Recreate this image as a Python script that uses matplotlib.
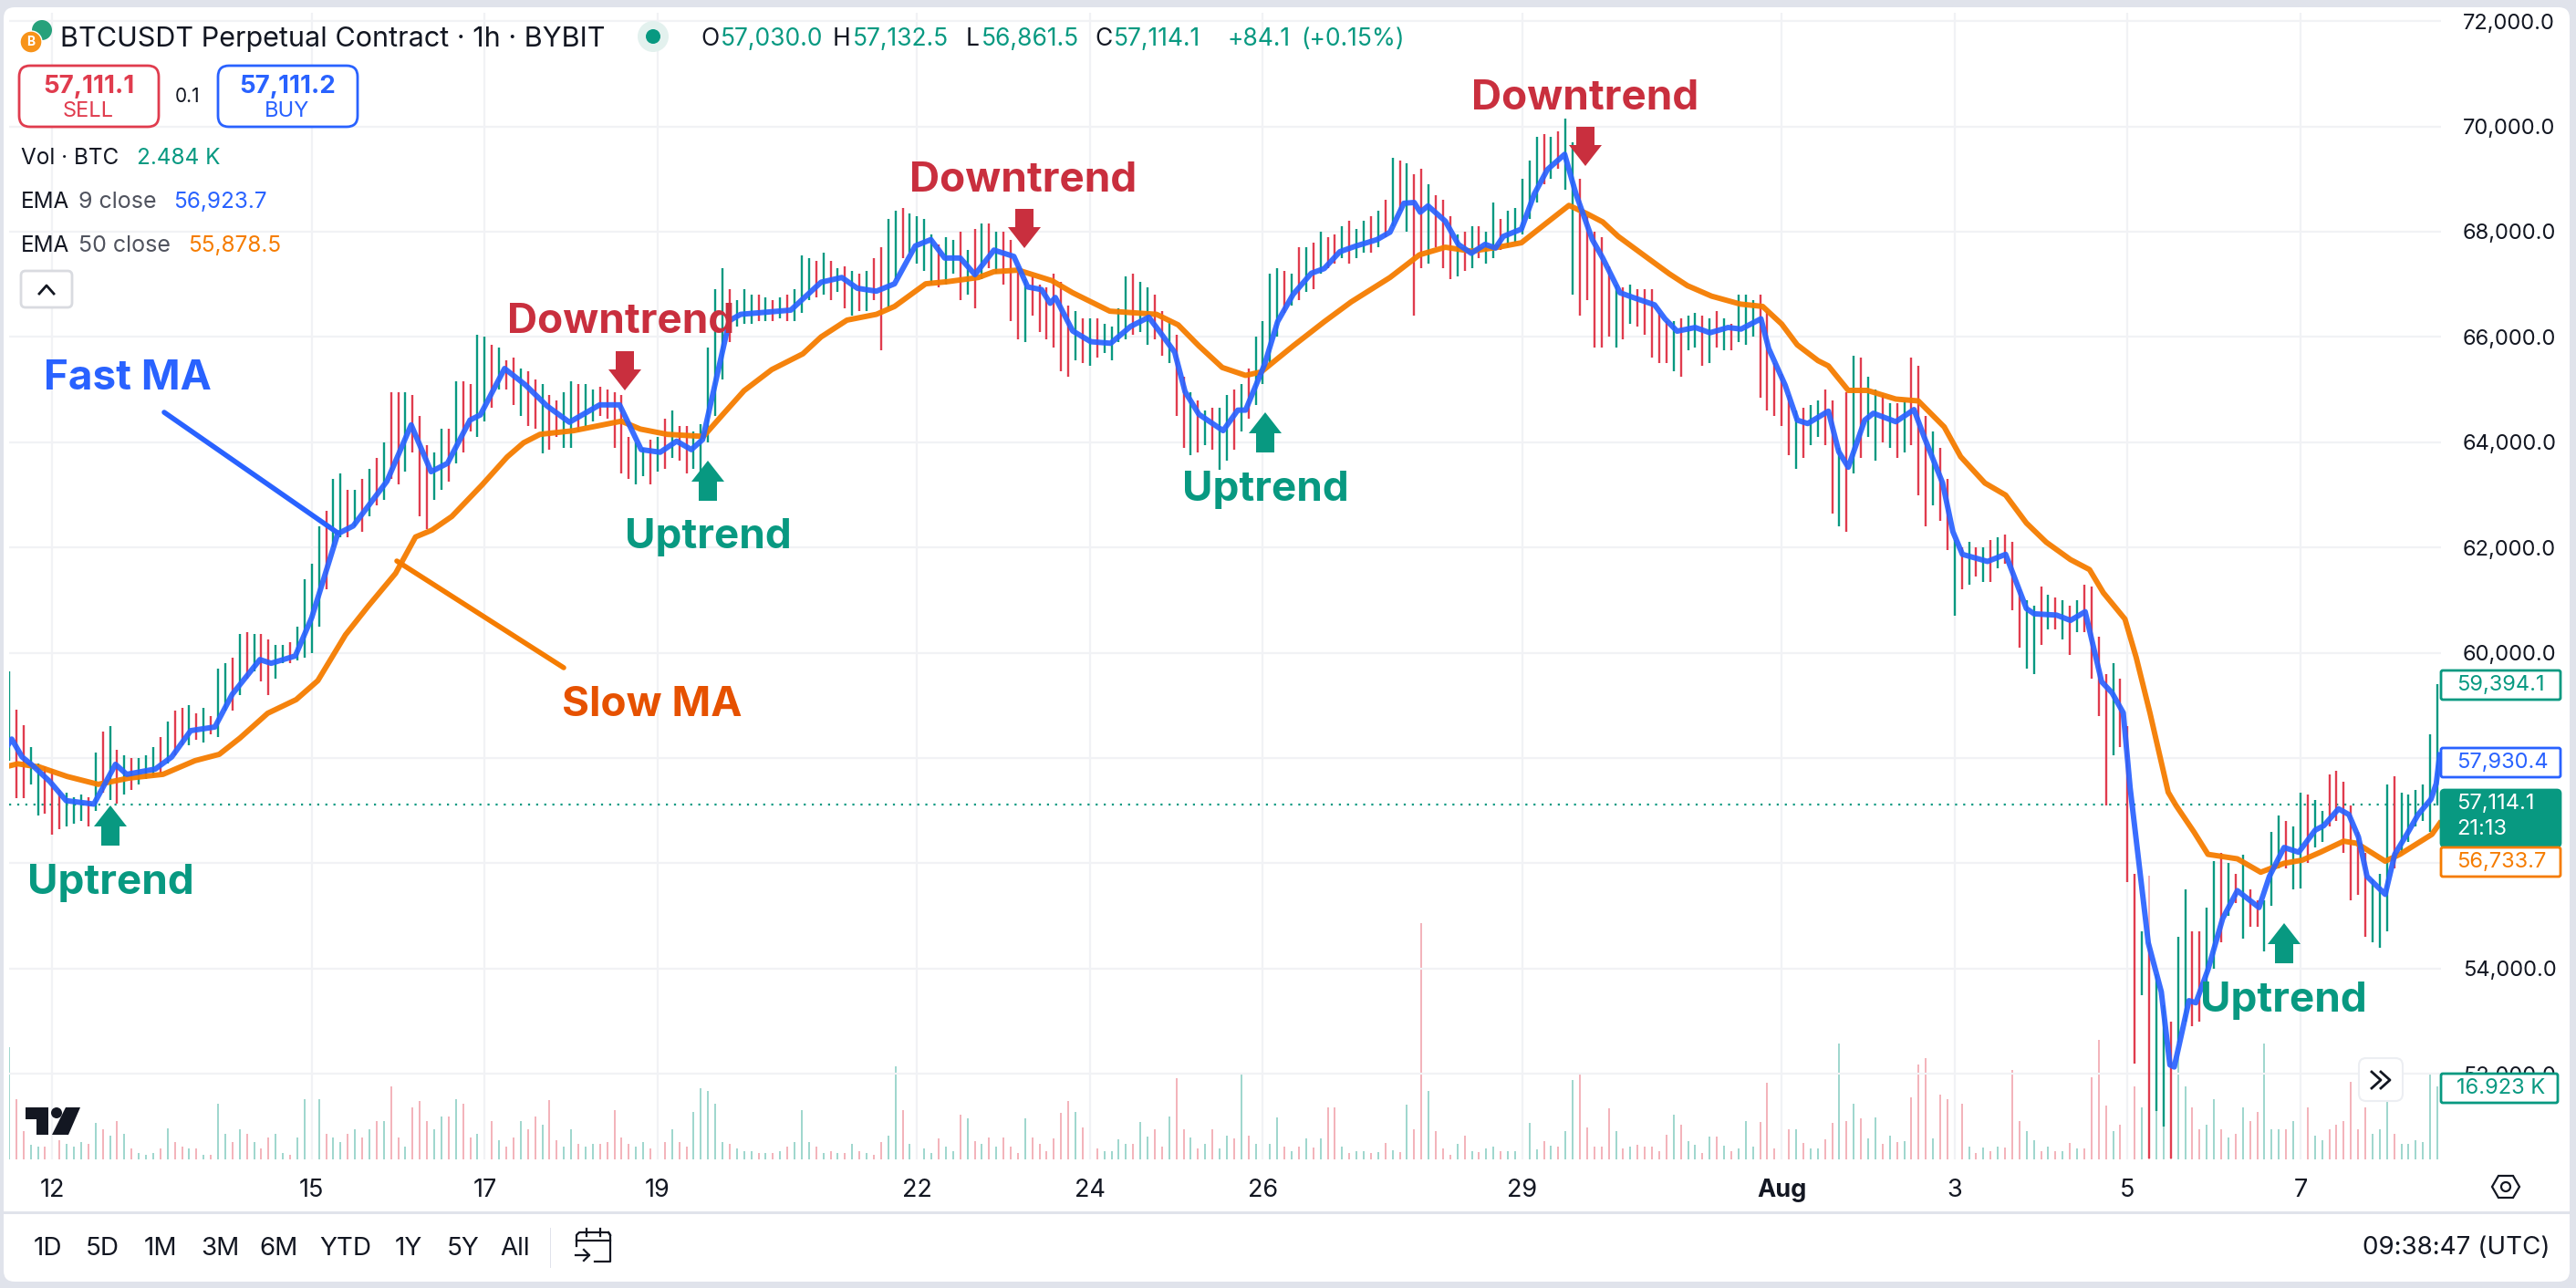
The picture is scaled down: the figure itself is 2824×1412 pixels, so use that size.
# BTCUSDT 1h chart with fast / slow EMA annotations

import numpy as np
import matplotlib.pyplot as plt
from matplotlib.patches import FancyBboxPatch, Polygon, Circle, Rectangle

plt.rcParams['font.family'] = ['Inter', 'DejaVu Sans']

GREEN = '#089981'
RED = '#e03c4e'
BLUE = '#2962ff'
ORANGE = '#f57c00'
INK = '#131722'

# candles, one every 2 hours starting at day 11.5 (day 32 = Aug 1)
highs = [
    59650,58920,58620,58200,57900,57850,
    57800,57400,57350,57250,57300,57250,58100,58500,58600,58150,58050,58000,
    58000,58050,58200,58400,58700,58900,58950,59000,58850,58950,58800,59700,
    59800,59900,60350,60400,60350,60350,60250,60150,60150,60200,60500,61400,
    61700,62400,62700,63300,63400,63100,63100,63300,63500,63700,64000,64950,
    64950,64950,64900,64500,63950,63800,64250,64250,65150,65150,65100,66050,
    66000,65850,65800,65550,65600,65400,65350,65200,65100,64900,64800,64950,
    65150,65100,65100,65000,65050,65000,64950,64900,64100,64000,63900,64050,
    64100,64450,64600,64300,64300,64200,64350,65800,66900,67300,66900,66700,
    66900,66800,66800,66750,66700,66750,66800,66900,67550,67500,67450,67600,
    67450,67300,67350,67250,67200,67250,67500,67700,68250,68400,68450,68350,
    68300,68250,67950,67750,67900,67850,68000,67650,68050,68150,68150,68000,
    68000,67850,67350,67100,67150,67000,66950,67200,67050,66600,66500,66350,
    66350,66350,66250,66200,66550,67150,67200,67050,66950,66800,66500,66300,
    66050,65250,64950,64800,64600,64650,64650,64900,65000,65100,65400,66000,
    66300,67200,67300,67250,67200,67700,67700,67800,68000,67900,67950,68100,
    68200,68050,68200,68300,68400,68600,69400,69350,69300,69100,69200,68900,
    68700,68600,68300,67950,68000,68100,68100,68000,68550,68250,68400,68450,
    69000,69350,69800,69850,69800,69900,70150,69700,69000,68300,68000,67900,
    67350,67000,66950,67000,66900,66900,66900,66450,66300,66300,66350,66400,
    66450,66400,66350,66500,66350,66250,66800,66800,66700,66800,66500,65500,
    65300,64900,64600,64650,64700,64800,65000,64800,63900,64950,65650,65600,
    65250,65000,64900,64750,64750,64800,65600,65450,64500,64200,63900,63300,
    62150,62000,62100,62000,62000,62150,62200,62250,62100,61200,61000,60900,
    61250,61100,61050,61000,60900,61000,61300,61250,60300,59600,59800,59500,
    58600,55800,54700,54500,53900,53300,53000,54600,55500,54700,54700,55150,
    56040,56200,56000,55800,56170,55500,55300,55300,56600,56900,56800,56700,
    57350,57300,57200,57000,57680,57750,57550,57100,56600,56200,55700,55800,
    57500,57650,57350,57300,57400,57500,58450,59400,
]
lows = [
    57950,57230,57230,57500,56900,56950,
    56540,56650,56700,56750,56800,56700,57000,57350,57200,57130,57300,57400,
    57500,57600,57650,57700,57900,58050,58250,58250,58350,58300,58450,58400,
    58900,58900,59200,59500,59650,59450,59200,59500,59800,59800,59850,59900,
    60000,60500,61200,62000,62200,62200,62400,62300,62600,62800,62900,63300,
    63200,63450,63800,62600,62350,62900,63100,63250,63600,63800,64200,64100,
    64400,64650,65000,65000,64700,64500,64300,64250,63790,63850,64100,63900,
    63900,64200,64300,64400,64500,64450,63900,63400,63300,63200,63350,63200,
    63450,63500,63700,63650,63400,63500,63300,64000,64500,65200,65900,66200,
    66250,66250,66300,66300,66300,66350,66300,66300,66450,66700,66750,66800,
    66700,66850,66550,66400,66500,66500,66700,65750,66550,67100,67500,67600,
    67400,67250,67000,66950,67000,67200,66700,66800,66550,67100,67300,67200,
    67000,66300,65950,65900,66400,66100,65950,65800,65350,65250,65550,65500,
    65450,65600,65700,65550,65900,65950,66050,66100,65850,65950,65650,65500,
    64500,63900,63750,63800,63950,63850,63470,63650,63850,64200,64450,64700,
    65100,65500,66000,66450,66600,66700,66850,66900,67200,67300,67400,67500,
    67400,67500,67600,67600,67700,67900,68100,68400,68000,66400,67300,67400,
    67700,67300,67100,67150,67250,67300,67500,67400,67500,67650,67700,67800,
    67950,68250,68550,68900,69000,69200,68800,66800,66400,66700,65800,65800,
    66000,65800,65950,66250,66200,66050,65600,65500,65500,65350,65250,65750,
    65800,65460,65500,65800,65750,65750,65900,65850,66000,64850,64600,64500,
    64300,63750,63500,63700,63950,64100,63950,62650,62400,62300,63400,63700,
    64100,63650,64000,63900,63700,63800,63950,63000,62400,62800,62500,61950,
    60700,61200,61300,61450,61350,61350,61600,61700,60800,60100,59700,59600,
    60150,60450,60450,60250,59950,60400,60400,59500,58800,57100,58050,58200,
    55650,52200,53500,50400,51300,51000,50400,52600,53000,52900,53000,53700,
    54000,54500,55000,55250,54570,54800,54800,54330,55200,55900,55900,55500,
    55520,56000,56300,56400,56700,56800,56200,55300,55400,54600,54500,54400,
    54700,55900,56200,56400,56700,56800,56590,57100,
]
directions = (
    'grrggr'
    'rrgggrgrgrgr'
    'gggrgrrgrgrg'
    'grgrgrrggrgg'
    'ggrggrgrgrgr'
    'rgrrrggrgrrg'
    'grgrrgrrgrrg'
    'grggrrrrrggr'
    'grgrrgggggrg'
    'ggrgrgrgggrg'
    'rgrgrgrrggrg'
    'gggrggrgrgrg'
    'rrrgrrrrrrgr'
    'grggggrggrrg'
    'rrgrgrggrgrg'
    'gggrgrgrgrrg'
    'rggrgrgrgrrg'
    'rrrgrgrggrgg'
    'gggrgrggrrrr'
    'rgrgrrrrrgrg'
    'grgrgrgggrrr'
    'rrgrggrrgrgr'
    'ggrgrgrrrgrr'
    'grgrgrgrrrgg'
    'rgrgrgrrrrgr'
    'rrgrggrggrrg'
    'grgrgrrgggrg'
    'grggrrrrrrgg'
    'grgggggg'
)
volumes = [
    26,14,6.5,3.4,3,3,
    5,4.5,3.5,3,4,3.5,8.5,7,5.5,8.8,6,2.5,
    1.5,1,1.5,2.5,7.3,4,3,2.5,2.5,1,1,13,
    6,4,7,6,4,2.5,5,6,1.5,1,5,14,
    4,14,6,5,4,6,7,5,7,9,9,17,
    5,3,12,13.5,9,7,10,10,14,13,5,6,
    9,9,4.5,3,5,9,7,10,8,13.7,4.5,3,
    7,3.5,3,3.5,3.5,4,11.5,5,3.5,3,4,2.5,
    3.5,4,7,4,3,11,16.5,16,13,4,3.5,2.5,
    2,2,1.5,1.5,1.5,2,3,4,11.5,4,3,1.5,
    2,1.5,1.5,3.5,2,1.5,1,4,5.5,21.7,11.5,3.5,
    4,2.5,1.5,4.8,3,2,10.3,9.5,4.3,3.5,5,3,
    5,3,1.5,9.6,5,3.5,2,4.8,10.8,13.5,11,7.5,
    3,2.5,2,2,4.7,3.5,3.5,8.7,5.2,7,3,9.9,
    18.8,7,5,2.5,3.5,7,2.5,5.5,4.8,19.7,5.5,3.5,
    11,3.5,9.7,3,2,3,4.8,2.8,4.8,12,12,3,
    1.5,2,2,1.5,1.8,3.8,2.2,1.8,12.8,7,55,16,
    6.5,2.5,1,3.5,5.5,2,1.8,2.5,3,2,2,2,
    9.3,8.5,2.4,4.3,3.2,3,6.5,18.5,20,7.5,3,3,
    11.8,6.5,2.5,3,3.3,3,3,2,5.8,10.3,8,4.3,
    3.3,1.5,5.2,5.3,3.2,2,2.5,9,3,8.6,17.8,2.5,
    6,7,7,3.8,2.5,2.5,4.7,8.5,27,8.8,13,9.5,
    4.8,9.8,3.5,5.5,4,4.2,14.4,22,23.5,4.8,15,14,
    7.5,13,3,1.5,2.8,2,3,2.8,20.7,9,6.5,4.5,
    2,3,2,2,3.8,2.5,2.5,19,27.7,12.5,6.5,8,
    33.8,17,12,66,17,20,16,42,17,12,7,8,
    14,7,5,6,12,9,11,27,7,7,7,9,
    7,12,5.5,4.5,7,8,9,18,7,12,6,7,
    16,6,3.5,3.5,4.5,4,20,17,
]

# EMA 9
fast_days = [
    11.45,11.53,11.65,11.77,11.97,12.16,12.48,12.73,12.86,13.19,
    13.38,13.6,13.88,14.08,14.4,14.53,14.81,15.0,15.3,15.48,
    15.87,16.15,16.38,16.57,16.83,16.95,17.23,17.47,17.72,17.98,
    18.33,18.56,18.81,19.03,19.22,19.39,19.52,19.83,19.96,20.54,
    20.89,21.13,21.31,21.53,21.74,21.98,22.16,22.32,22.5,22.67,
    22.89,23.12,23.28,23.44,23.54,23.6,23.8,24.01,24.24,24.47,
    24.68,24.8,24.98,25.1,25.26,25.54,25.71,25.8,26.02,26.17,
    26.35,26.56,26.71,26.89,27.08,27.32,27.47,27.63,27.75,27.82,
    27.91,28.11,28.26,28.41,28.57,28.69,28.78,28.99,29.14,29.29,
    29.49,29.62,29.81,29.93,30.13,30.3,30.53,30.65,30.79,31.0,
    31.17,31.38,31.53,31.76,31.85,32.04,32.18,32.3,32.54,32.66,
    32.77,32.96,33.06,33.32,33.53,33.65,33.86,33.98,34.09,34.38,
    34.59,34.83,34.92,35.18,35.34,35.51,35.7,35.82,35.95,36.03,
    36.24,36.39,36.49,36.54,36.71,36.79,36.93,37.1,37.27,37.52,
    37.64,37.81,37.98,38.17,38.27,38.44,38.56,38.67,38.77,38.98,
    39.09,39.23,39.36,39.51,39.57,39.61,
]
fast_prices = [
    58150,58360,58020,57860,57555,57190,57125,57880,57690,57790,
    58020,58520,58590,59210,59870,59800,59940,60670,62260,62410,
    63260,64330,63440,63600,64420,64520,65400,65090,64690,64380,
    64710,64710,63860,63810,64020,63860,64050,66310,66430,66510,
    67040,67130,66925,66870,67010,67730,67850,67500,67500,67185,
    67650,67530,66950,66900,66640,66750,66115,65910,65880,66200,
    66375,66115,65710,64960,64530,64220,64610,64610,65480,66290,
    66810,67210,67300,67620,67730,67850,67990,68540,68555,68370,
    68490,68200,67760,67590,67760,67690,67910,68050,68720,69180,
    69470,68720,67850,67500,66840,66740,66610,66345,66110,66180,
    66080,66180,66150,66345,65780,65085,64420,64355,64590,63820,
    63525,64420,64550,64390,64620,64090,63230,62300,61870,61735,
    61870,60840,60740,60715,60615,60780,59450,59240,58860,57430,
    54485,53560,52170,52130,53390,53350,53980,54950,55480,55160,
    55750,56300,56210,56630,56715,57035,56925,56500,55750,55410,
    56170,56550,56925,57220,57515,58060,
]

# EMA 50
slow_days = [
    11.45,11.6,11.85,12.17,12.53,12.89,13.28,13.65,13.93,14.17,
    14.49,14.82,15.07,15.39,15.65,15.97,16.2,16.39,16.62,16.97,
    17.26,17.45,17.64,18.03,18.58,18.8,19.11,19.53,19.75,20.0,
    20.32,20.68,20.89,21.19,21.53,21.74,22.1,22.35,22.71,22.89,
    23.17,23.56,23.8,24.23,24.77,25.02,25.26,25.53,25.8,25.98,
    26.35,26.71,27.02,27.47,27.81,28.11,28.41,28.72,28.99,29.26,
    29.54,29.75,29.93,30.11,30.4,30.7,30.91,31.19,31.52,31.78,
    32.0,32.18,32.42,32.54,32.77,32.99,33.32,33.58,33.88,34.07,
    34.35,34.59,34.83,35.06,35.34,35.56,35.72,35.97,36.1,36.26,
    36.47,36.56,36.77,36.93,37.27,37.54,37.81,38.02,38.23,38.5,
    38.65,38.98,39.15,39.52,39.61,
]
slow_prices = [
    57830,57890,57830,57650,57500,57620,57690,57950,58070,58380,
    58850,59110,59470,60340,60880,61510,62200,62330,62590,63190,
    63720,63990,64150,64220,64400,64250,64150,64110,64520,64980,
    65380,65680,66000,66320,66430,66580,67010,67050,67130,67240,
    67270,67070,66840,66490,66430,66230,65830,65420,65270,65335,
    65830,66290,66665,67130,67560,67705,67630,67705,67790,68140,
    68500,68340,68185,67910,67560,67200,66975,66775,66625,66580,
    66245,65850,65550,65450,64985,64985,64820,64785,64290,63725,
    63225,62995,62465,62100,61770,61580,61140,60640,59910,58850,
    57350,57100,56590,56170,56085,55830,56000,56060,56210,56420,
    56380,56040,56170,56550,56760,
]

price_ticks = list(range(52000, 72001, 2000))
day_ticks = [12, 15, 17, 19, 22, 24, 26, 29, 32, 34, 36, 38]
day_labels = ['12', '15', '17', '19', '22', '24', '26', '29', 'Aug', '3', '5', '7']
last_price = 57114.1
range_buttons = ['1D', '5D', '1M', '3M', '6M', 'YTD', '1Y', '5Y', 'All']


W, H = 2824, 1412
fig = plt.figure(figsize=(W / 100, H / 100), dpi=100, facecolor='#e0e3eb')

# pixel edges of the plot area
left, right, top, bottom = 10, 2676, 14, 1271

# white card first
card = fig.add_axes([0, 0, 1, 1], zorder=0)
card.set_xlim(0, W)
card.set_ylim(H, 0)
card.axis('off')
card.add_patch(FancyBboxPatch((4, 8), 2813, 1397, boxstyle='round,pad=0,rounding_size=12',
                              fc='white', ec='none'))

pos = [left / W, 1 - bottom / H, (right - left) / W, (bottom - top) / H]

# volume pane shares the plot rectangle
vol_ax = fig.add_axes(pos, zorder=1)
vol_ax.patch.set_visible(False)
vol_ax.set_xlim(11.5, 39.625)
vol_ax.set_ylim(0, (bottom - top) * 0.212)
vol_ax.axis('off')

ax = fig.add_axes(pos, zorder=2)
ax.patch.set_visible(False)
for s in ax.spines.values():
    s.set_visible(False)

candle_days = 11.5 + np.arange(len(highs)) * 2 / 24
candle_colors = [GREEN if c == 'g' else RED for c in directions]

vol_ax.vlines(candle_days, 0, volumes, colors=candle_colors, linewidth=1.1, alpha=0.5)
ax.vlines(candle_days, lows, highs, colors=candle_colors, linewidth=1.7)
ax.axhline(last_price, color=GREEN, linewidth=1.6, linestyle=(0, (1, 3)), zorder=1)
ax.plot(slow_days, slow_prices, color=ORANGE, linewidth=4.3, alpha=0.95, solid_joinstyle='round', zorder=3)
ax.plot(fast_days, fast_prices, color=BLUE, linewidth=4.3, alpha=0.92, solid_joinstyle='round', zorder=4)

# ylim from the pixel position of 60,000 and 0.0577 px per dollar
ax.set_ylim(60000 - (bottom - 715.6) / 0.0577, 60000 + (715.6 - top) / 0.0577)
ax.set_xlim(11.5, 39.625)
ax.set_yticks(price_ticks)
ax.set_yticklabels([f'{p:,.1f}' for p in price_ticks], fontsize=17, color=INK)
ax.yaxis.tick_right()
ax.set_xticks(day_ticks)
ax.set_xticklabels(day_labels, fontsize=19.5, color=INK)
ax.get_xticklabels()[8].set_fontweight('bold')
ax.tick_params(axis='y', length=0, pad=17)
ax.tick_params(axis='x', length=0, pad=15)
ax.grid(True, color='#f1f2f5', linewidth=1.6)
ax.set_axisbelow(True)

# everything drawn on top, in pixel coordinates
ui = fig.add_axes([0, 0, 1, 1], zorder=3)
ui.patch.set_visible(False)
ui.set_xlim(0, W)
ui.set_ylim(H, 0)
ui.axis('off')


def label(x, y, s, color=INK, size=17, ha='left', weight='normal'):
    ui.text(x, y + 2, s, color=color, fontsize=size, ha=ha, va='center', fontweight=weight)


def round_box(x0, y0, x1, y1, ec, fc='white', radius=3, lw=2.0):
    ui.add_patch(FancyBboxPatch((x0, y0), x1 - x0, y1 - y0,
                                boxstyle=f'round,pad=0,rounding_size={radius}', fc=fc, ec=ec, lw=lw))


def arrow(x, y0, y1, color):
    # y0 is the tip
    d = 1 if y1 > y0 else -1
    ui.add_patch(Polygon([(x, y0), (x + 18, y0 + d * 23), (x + 10, y0 + d * 23), (x + 10, y1),
                          (x - 10, y1), (x - 10, y0 + d * 23), (x - 18, y0 + d * 23)],
                         closed=True, fc=color, ec='none'))


# header
ui.add_patch(Circle((46, 33), 11, fc='#26a17b', ec='none'))
ui.add_patch(Circle((34, 46), 12, fc='#f7931a', ec='white', lw=1))
label(34, 44, 'B', color='white', size=10, ha='center', weight='bold')
label(66, 41, 'BTCUSDT Perpetual Contract · 1h · BYBIT', size=22)
ui.add_patch(Circle((716, 40), 17, fc='#e3f1ee', ec='none'))
ui.add_patch(Circle((716, 40), 8, fc=GREEN, ec='none'))
for x, s in [(768, 'O'), (913, 'H'), (1059, 'L'), (1200, 'C')]:
    label(x, 41, s, size=19)
for x, s in [(790, '57,030.0'), (935, '57,132.5'), (1076, '56,861.5'), (1221, '57,114.1'),
             (1346, '+84.1'), (1426, '(+0.15%)')]:
    label(x, 41, s, color=GREEN, size=19)

# sell / buy buttons
round_box(21, 72, 174, 139, RED, radius=12)
label(97, 93, '57,111.1', color=RED, size=20, ha='center', weight='bold')
label(97, 120, 'SELL', color=RED, size=17, ha='center')
label(206, 104, '0.1', size=15, ha='center')
round_box(239, 72, 392, 139, BLUE, radius=12)
label(315, 93, '57,111.2', color=BLUE, size=20, ha='center', weight='bold')
label(315, 120, 'BUY', color=BLUE, size=17, ha='center')

# legend rows
label(23, 171, 'Vol · BTC', size=17.5)
label(150, 171, '2.484 K', color=GREEN, size=17.5)
label(23, 219, 'EMA', size=17.5)
label(86, 219, '9 close', color='#50535e', size=18)
label(190, 219, '56,923.7', color=BLUE, size=17.5)
label(23, 267, 'EMA', size=17.5)
label(86, 267, '50 close', color='#50535e', size=18)
label(206, 267, '55,878.5', color=ORANGE, size=17.5)
round_box(23, 297, 79, 337, '#d9dbe0', radius=5)
ui.plot([43, 51, 59], [322, 313, 322], color=INK, lw=2)

# annotations
big = 33
label(681, 351, 'Downtrend', color='#c92f3e', size=big, ha='center', weight='bold')
label(1122, 196, 'Downtrend', color='#c92f3e', size=big, ha='center', weight='bold')
label(1738, 106, 'Downtrend', color='#c92f3e', size=big, ha='center', weight='bold')
label(121, 966, 'Uptrend', color=GREEN, size=big, ha='center', weight='bold')
label(776, 587, 'Uptrend', color=GREEN, size=big, ha='center', weight='bold')
label(1387, 535, 'Uptrend', color=GREEN, size=big, ha='center', weight='bold')
label(2503, 1095, 'Uptrend', color=GREEN, size=big, ha='center', weight='bold')
label(140, 413, 'Fast MA', color=BLUE, size=big, ha='center', weight='bold')
label(715, 771, 'Slow MA', color='#e65100', size=big, ha='center', weight='bold')
ui.plot([180, 370], [452, 584], color=BLUE, lw=4, solid_capstyle='round')
ui.plot([618, 435], [732, 615], color=ORANGE, lw=4, solid_capstyle='round')
arrow(121, 883, 927, GREEN)
arrow(776, 505, 549, GREEN)
arrow(1387, 452, 496, GREEN)
arrow(2504, 1012, 1056, GREEN)
arrow(685, 428, 385, '#c92f3e')
arrow(1123, 272, 229, '#c92f3e')
arrow(1738, 182, 139, '#c92f3e')

# price scale tags
round_box(2676, 735, 2807, 767, GREEN, radius=2)
label(2693, 749, '59,394.1', color=GREEN)
round_box(2676, 820, 2807, 852, BLUE, radius=2)
label(2693, 834, '57,930.4', color=BLUE)
round_box(2676, 866, 2807, 928, GREEN, fc=GREEN, radius=4)
label(2693, 879, '57,114.1', color='white')
label(2693, 907, '21:13', color='white')
round_box(2676, 929, 2807, 961, ORANGE, radius=2)
label(2693, 943, '56,733.7', color=ORANGE)
round_box(2676, 1177, 2804, 1209, GREEN, radius=2)
label(2693, 1191, '16.923 K', color=GREEN)

# tradingview mark
ui.add_patch(Polygon([(28, 1214), (53, 1214), (53, 1244), (40, 1244), (40, 1227), (28, 1227)], fc=INK, ec='none'))
ui.add_patch(Circle((62, 1220), 6, fc=INK, ec='none'))
ui.add_patch(Polygon([(72, 1214), (88, 1214), (75, 1244), (57, 1244)], fc=INK, ec='none'))

# scroll button
round_box(2586, 1160, 2634, 1207, '#eceef2', radius=8, lw=1.5)
ui.plot([2600, 2610, 2600], [1175, 1184, 1193], color=INK, lw=2)
ui.plot([2610, 2620, 2610], [1175, 1184, 1193], color=INK, lw=2)

# settings icon
ui.add_patch(Polygon([(2732, 1301), (2739, 1289), (2755, 1289), (2762, 1301), (2755, 1313), (2739, 1313)],
                     fc='none', ec=INK, lw=1.6))
ui.add_patch(Circle((2747, 1301), 5, fc='none', ec=INK, lw=1.6))

# bottom toolbar
ui.add_patch(Rectangle((4, 1328), 2813, 2.5, fc='#e0e3eb', ec='none'))
for x, s in zip([52, 112, 176, 241, 306, 379, 448, 508, 565], range_buttons):
    label(x, 1367, s, size=20, ha='center')
ui.add_patch(Rectangle((602.5, 1346), 1.5, 44, fc='#e0e3eb', ec='none'))
label(2796, 1366, '09:38:47 (UTC)', size=20, ha='right')
ui.plot([667, 669, 669, 652], [1351, 1354, 1383, 1383], color=INK, lw=1.6)
ui.plot([632, 632, 635, 667, 669], [1366, 1354, 1351, 1351, 1354], color=INK, lw=1.6)
ui.plot([632, 669], [1360, 1360], color=INK, lw=1.6)
ui.plot([643, 643], [1347, 1355], color=INK, lw=1.6)
ui.plot([658, 658], [1347, 1355], color=INK, lw=1.6)
ui.plot([631, 646], [1376, 1376], color=INK, lw=1.6)
ui.plot([640, 646, 640], [1370, 1376, 1382], color=INK, lw=1.6)

fig.savefig('out.png', dpi=100, facecolor=fig.get_facecolor())
